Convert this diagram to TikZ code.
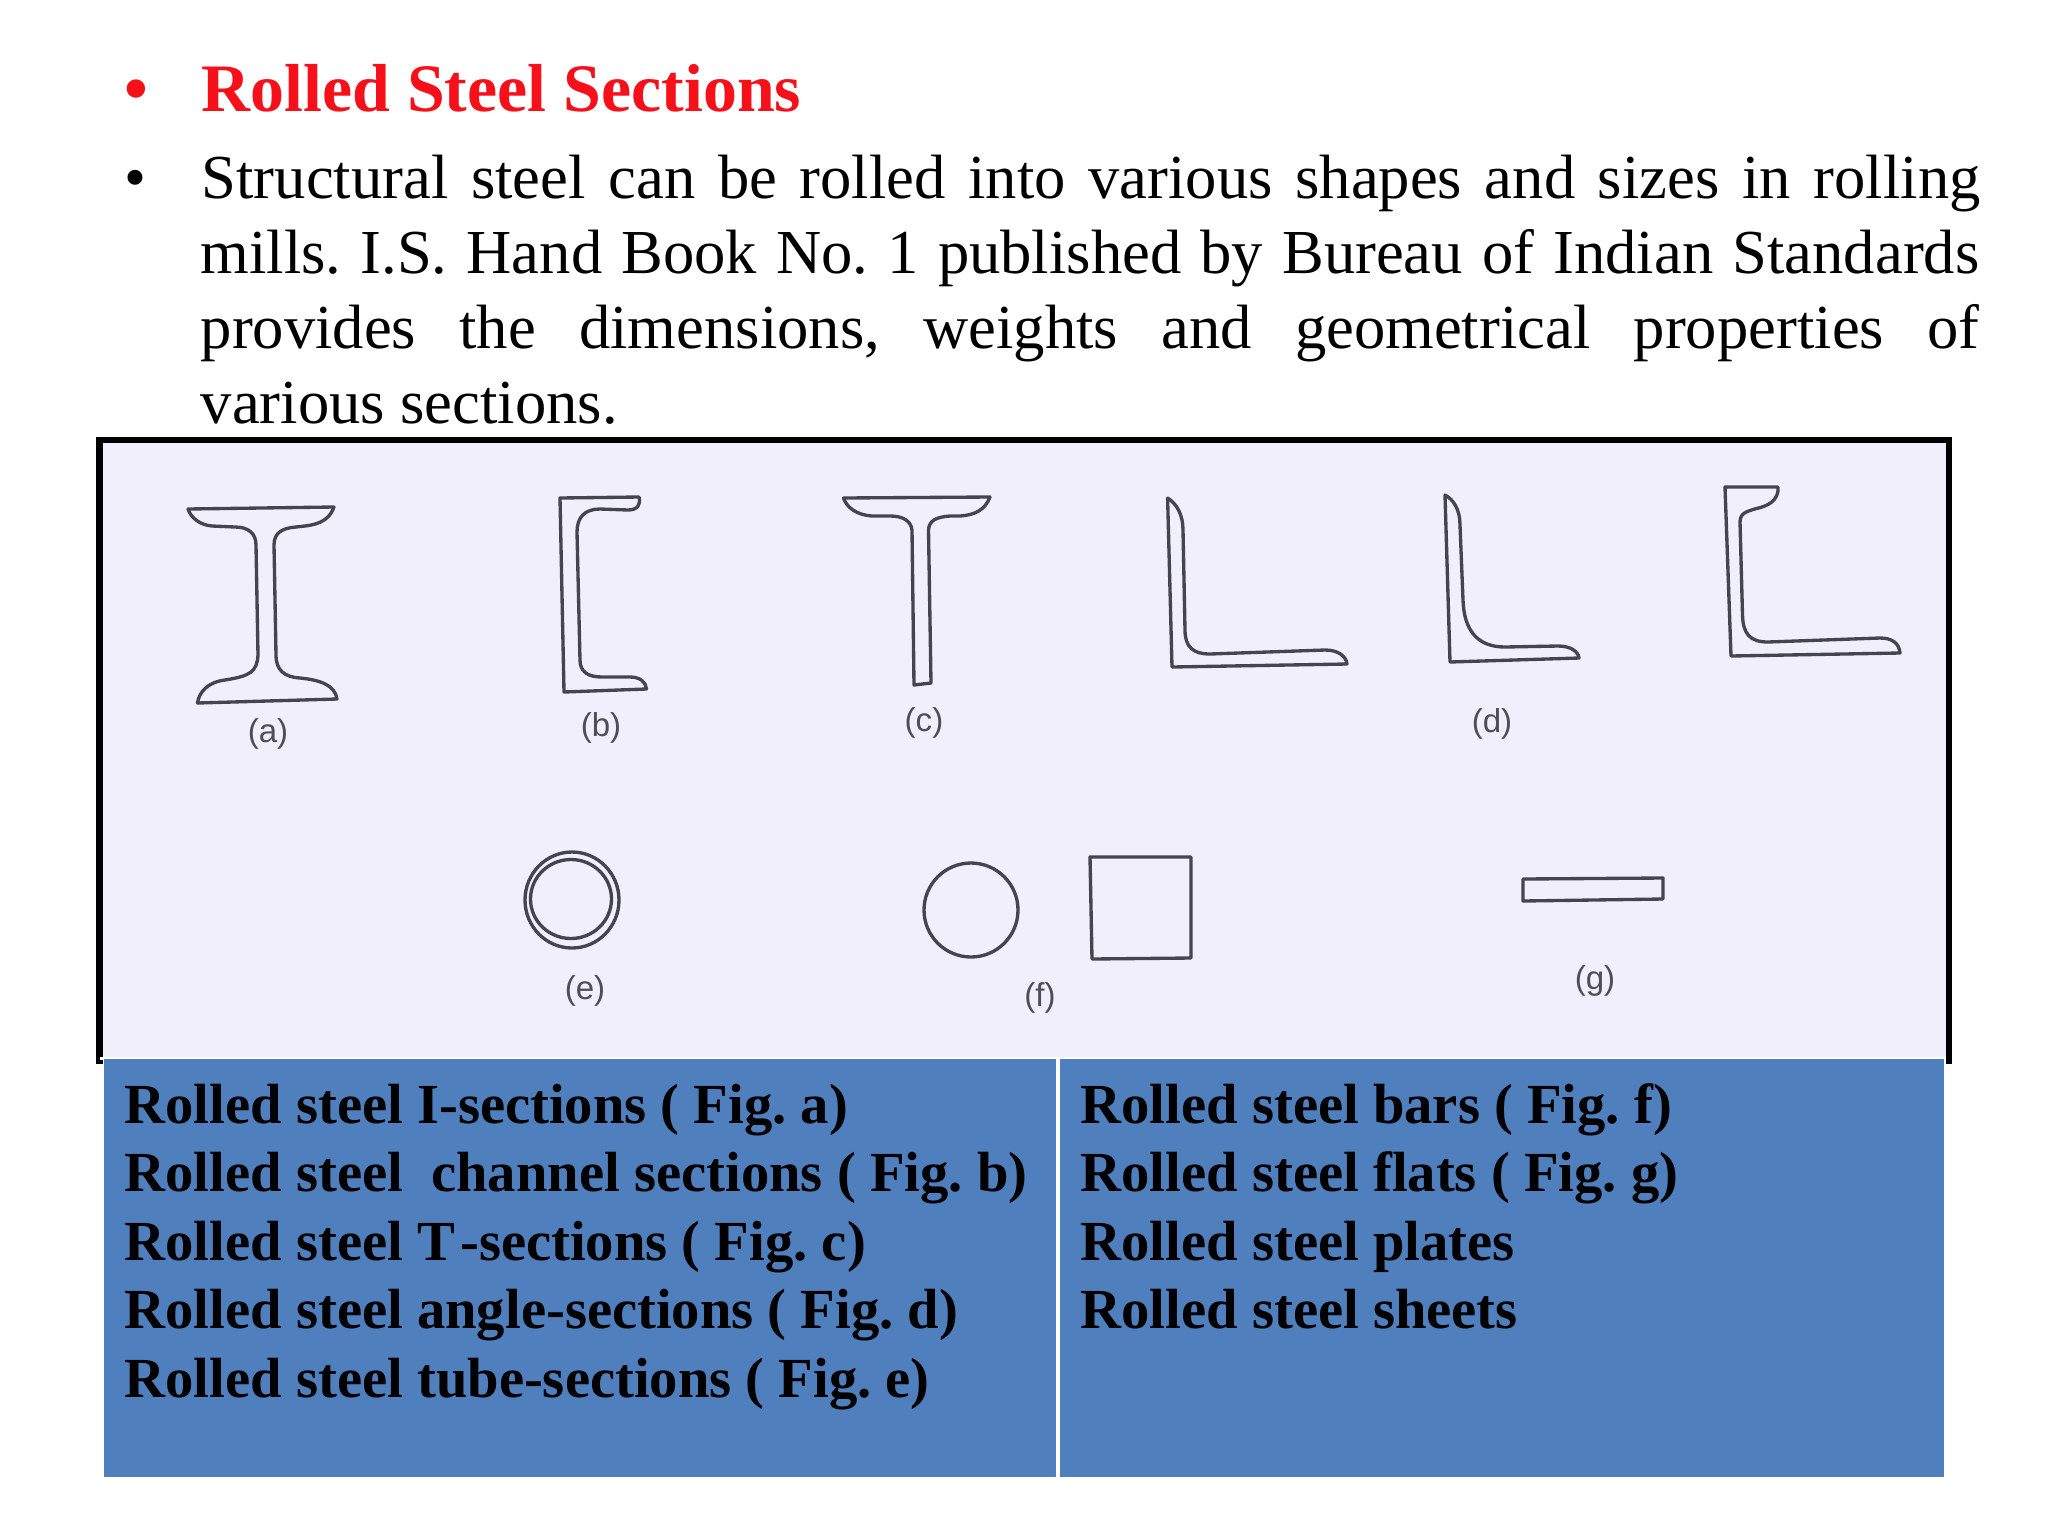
\documentclass[tikz,border=0pt]{standalone}
\usepackage{fontspec}
\setmainfont{Liberation Serif}
\newfontfamily\figfont{Liberation Sans}
\definecolor{figbg}{HTML}{F1EFFC}
\definecolor{bluebox}{HTML}{4F7FBD}
\definecolor{inkline}{HTML}{45454F}
\definecolor{labelgray}{HTML}{4E4E56}
\definecolor{titlered}{HTML}{F5101A}
\tikzset{
  sect/.style={draw=inkline,line width=0.95pt,line join=round},
  figlabel/.style={inner sep=0pt,text=labelgray,font=\figfont\fontsize{9.4pt}{11pt}\selectfont},
  titletext/.style={anchor=base west,inner sep=0pt,text=titlered,font=\bfseries\fontsize{19.3pt}{23pt}\selectfont},
  bodytext/.style={anchor=base west,inner sep=0pt,text=black,font=\fontsize{17.8pt}{21pt}\selectfont},
  boxtext/.style={anchor=base west,inner sep=0pt,text=black,font=\bfseries\fontsize{16.1pt}{19pt}\selectfont},
}
\newcommand{\jline}[1]{\makebox[505.8pt][s]{#1}}
\begin{document}
\frenchspacing
\begin{tikzpicture}[x=0.01cm,y=-0.01cm]
\useasboundingbox (0,0) rectangle (2048,1536);
\fill[white] (0,0) rectangle (2048,1536);
% text
\node[titletext] (bul1) at (124,111) {•};
\node[titletext] (title) at (201,111) {Rolled Steel Sections};
\node[bodytext] (bul2) at (124,198) {•};
\node[bodytext] (l1) at (201,198) {\jline{Structural steel can be rolled into various shapes and sizes in rolling}};
\node[bodytext] (l2) at (200,273) {\jline{mills. I.S. Hand Book No. 1 published by Bureau of Indian Standards}};
\node[bodytext] (l3) at (200,348) {\jline{provides the dimensions, weights and geometrical properties of}};
\node[bodytext] (l4) at (200,423) {various sections.};
% figure panel
\fill[figbg] (100,440) rectangle (1949,1060);
\draw[black,line width=1.9pt] (99.5,1064) -- (99.5,440) -- (1949,440) -- (1949,1064);
% blue table
\fill[white] (100,1057) rectangle (1946,1060);
\fill[bluebox] (104,1059) rectangle (1944,1477);
\draw[white,line width=0.9pt] (1058,1059) -- (1058,1477);
% I section
\draw[sect] (188,509) -- (334,507) .. controls (330,518) and (322,524) .. (305,526) -- (296,527)
  .. controls (282,528) and (274,533) .. (274,545) -- (276,655)
  .. controls (276,670) and (284,677) .. (300,678) .. controls (320,680) and (335,685) .. (337,699)
  -- (197.5,703) .. controls (199,692) and (208,682) .. (225,680) .. controls (250,676) and (257,672) .. (258,655)
  -- (256,545) .. controls (256,533) and (248,527) .. (235,527) -- (212,526)
  .. controls (200,525) and (191,518) .. (188,509) -- cycle;
% channel
\draw[sect] (560,498) -- (639,497) .. controls (641,504) and (638,510) .. (628,510) -- (600,509)
  .. controls (585,509) and (577,517) .. (577,532) -- (580,660)
  .. controls (580,672) and (588,677) .. (602,677) -- (630,677)
  .. controls (640,677) and (646,682) .. (646.5,689) -- (564,692) -- cycle;
% T
\draw[sect] (843.5,498) -- (990,497) .. controls (985,510) and (975,515) .. (960,516) -- (950,516)
  .. controls (937,517) and (929,520) .. (928.5,530) -- (931,683) -- (914,685) -- (912,530)
  .. controls (911,521) and (903,516) .. (890,516) -- (872,516)
  .. controls (857,515) and (847,508) .. (843.5,498) -- cycle;
% angle 1
\draw[sect] (1167.6,498) .. controls (1177,504) and (1183,515) .. (1183,530) -- (1185,630)
  .. controls (1185,647) and (1193,654) .. (1210,654) -- (1325,650)
  .. controls (1338,650) and (1346,656) .. (1347,664) -- (1172,667) -- cycle;
% angle 2
\draw[sect] (1445,495) .. controls (1454,500) and (1460,510) .. (1460,525) -- (1463,600)
  .. controls (1464,630) and (1477,647) .. (1505,647) -- (1558,646)
  .. controls (1570,646) and (1578,651) .. (1579,658) -- (1450,662) -- cycle;
% angle 3
\draw[sect] (1725,487) -- (1778,487) .. controls (1779,497) and (1772,504) .. (1762,507)
  .. controls (1748,511) and (1740,512) .. (1740,522) -- (1742.5,615)
  .. controls (1743,634) and (1750,642) .. (1768,642) -- (1880,638)
  .. controls (1892,638) and (1899,643) .. (1900,653) -- (1731,656) -- cycle;
% tube
\draw[sect] (572,900) ellipse (47 and 48);
\draw[sect] (571,899) ellipse (40.5 and 39.5);
% bars
\draw[sect] (971,910) ellipse (47 and 47);
\draw[sect] (1090,857) -- (1191,857) -- (1191,958) -- (1092,959) -- cycle;
% flat
\draw[sect] (1523,879) -- (1663,878) -- (1663,899) -- (1523,901) -- cycle;
% figure labels
\node[figlabel] (fa) at (268,734) {(a)};
\node[figlabel] (fb) at (601,728) {(b)};
\node[figlabel] (fc) at (924,723) {(c)};
\node[figlabel] (fd) at (1492,724) {(d)};
\node[figlabel] (fe) at (585,991) {(e)};
\node[figlabel] (ff) at (1040,998) {(f)};
\node[figlabel] (fg) at (1595,981) {(g)};
% box text
\node[boxtext] (a1) at (124,1123) {Rolled steel I-sections ( Fig. a)};
\node[boxtext] (a2) at (124,1191) {Rolled steel\ \ channel sections ( Fig. b)};
\node[boxtext] (a3) at (124,1260) {Rolled steel T\kern1.5pt-sections ( Fig. c)};
\node[boxtext] (a4) at (124,1328) {Rolled steel angle-sections ( Fig. d)};
\node[boxtext] (a5) at (124,1397) {Rolled steel tube-sections ( Fig. e)};
\node[boxtext] (b1) at (1080,1123) {Rolled steel bars ( Fig. f)};
\node[boxtext] (b2) at (1080,1191) {Rolled steel flats ( Fig. g)};
\node[boxtext] (b3) at (1080,1260) {Rolled steel plates};
\node[boxtext] (b4) at (1080,1328) {Rolled steel sheets};
\end{tikzpicture}
\end{document}
